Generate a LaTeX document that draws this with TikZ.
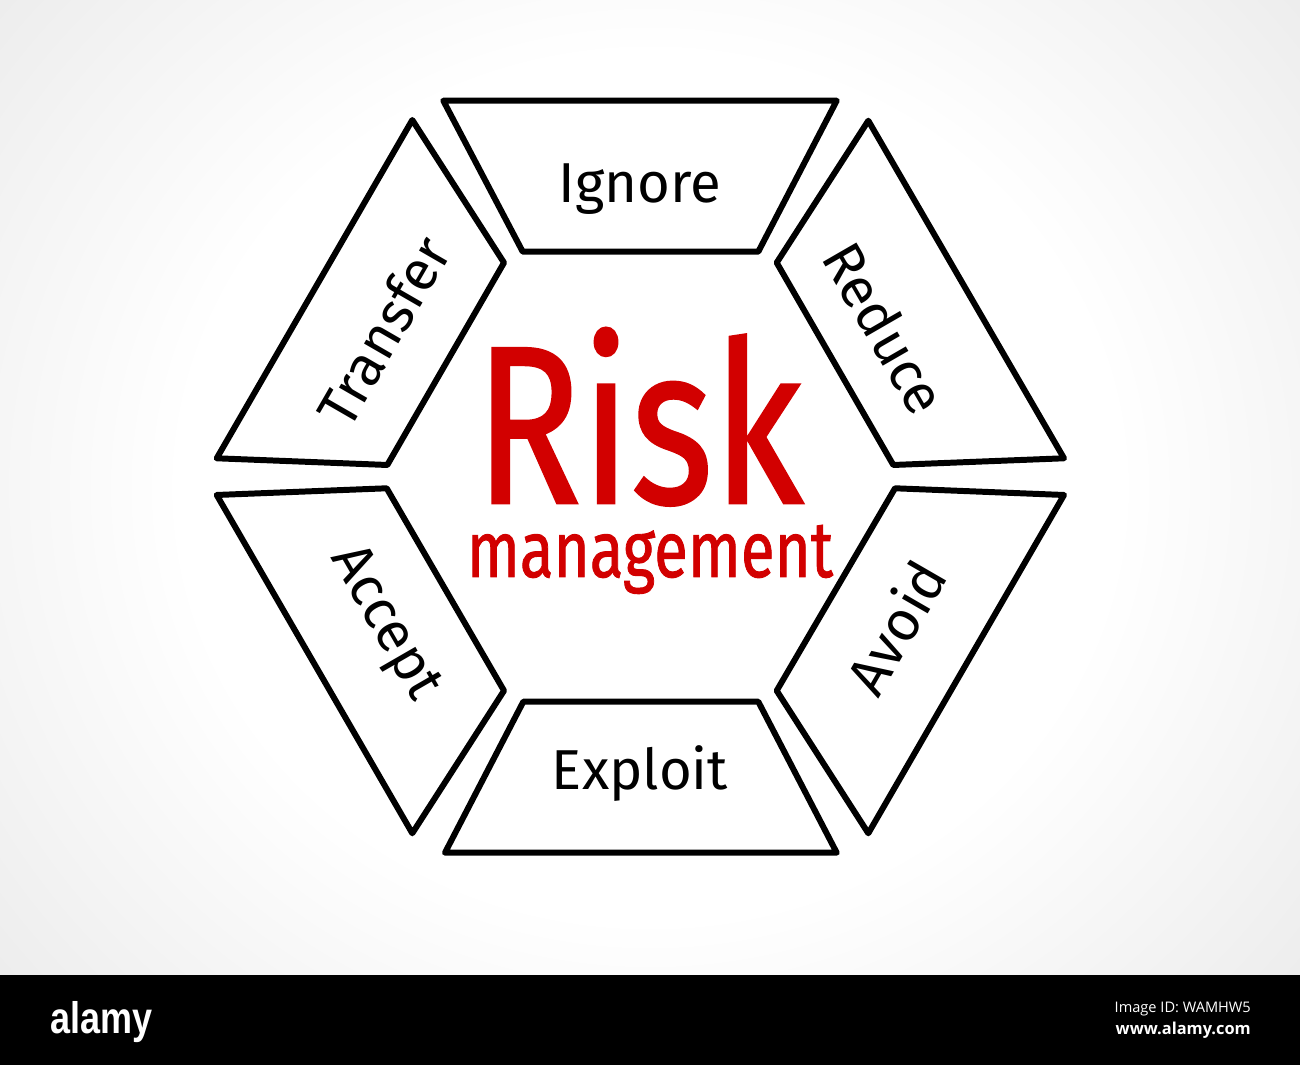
\documentclass[tikz,border=0pt]{standalone}
\usepackage{fontspec}
\setmainfont{Fira Sans}
\newfontfamily\redfont[FakeBold=1.2]{Fira Sans}
\newfontfamily\barfont{Open Sans}
\newfontfamily\logofont{Liberation Sans}
\definecolor{riskred}{RGB}{210,0,0}
\pgfdeclareradialshading{bgshade}{\pgfpoint{0bp}{0bp}}{color(0bp)=(white); color(18bp)=(white); color(34bp)=(black!8); color(50bp)=(black!20); color(65bp)=(black!26); color(75bp)=(black!27)}
\tikzset{
  seg/.style={draw=black, fill=white, line width=1.7pt, line join=round},
  lbl/.style={font=\fontsize{16}{20}\selectfont, inner sep=0pt, text=black},
  redtxt/.style={inner sep=0pt, text=riskred, font=\redfont},
  bartxt/.style={inner sep=0pt, text=white}
}
\begin{document}
\begin{tikzpicture}[x=0.01cm, y=-0.01cm]
\useasboundingbox (0,0) rectangle (1300,1065);
% background
\begin{scope}
\clip (0,0) rectangle (1300,975);
\shade[shading=bgshade] (0,-112.5) rectangle (1300,1087.5);
\end{scope}
\fill[black] (0,975) rectangle (1300,1065);

% ring segments
\draw[seg] (443.3,100.7) -- (836.7,100.7) -- (758.3,251.7) -- (522.7,251.7) -- cycle;
\draw[seg] (868.3,120.7) -- (1064,458.3) -- (893.3,465) -- (776.7,262.7) -- cycle;
\draw[seg] (895,488.3) -- (1064,495) -- (868.3,833.3) -- (776.7,690.7) -- cycle;
\draw[seg] (523.3,701.7) -- (758.3,701.7) -- (836.7,852.7) -- (445,852.7) -- cycle;
\draw[seg] (216.7,495) -- (386.7,488.3) -- (504,690.7) -- (412.3,833.3) -- cycle;
\draw[seg] (412.3,120) -- (504,262.7) -- (387.3,465) -- (216.7,458.3) -- cycle;

% labels
\node[lbl, anchor=base] (ignore) at (640,203) {Ignore};
\node[lbl, anchor=base] (exploit) at (640,790) {Exploit};
\node[lbl, rotate=60] (transfer) at (383,331) {Transfer};
\node[lbl, rotate=-60] (reduce) at (885,328) {Reduce};
\node[lbl, rotate=-60] (accept) at (384,624) {Accept};
\node[lbl, rotate=60] (avoid) at (895.5,626.7) {Avoid};

% centre
\node[redtxt, anchor=base] (risk) at (639,503) {\resizebox{3.28cm}{1.75cm}{Risk}};
\node[redtxt, anchor=base] (mgmt) at (650,577) {\resizebox{3.66cm}{0.52cm}{management}};

% bottom bar
\node[bartxt, anchor=base west] (logo) at (50,1034) {\resizebox{1.02cm}{0.32cm}{\logofont\bfseries alamy}};
\node[bartxt, anchor=base west] (imgid) at (1114,1012.7) {\resizebox{1.36cm}{!}{\barfont Image ID: WAMHW5}};
\node[bartxt, anchor=base west] (www) at (1115,1035) {\resizebox{1.35cm}{!}{\barfont\bfseries www.alamy.com}};
\end{tikzpicture}
\end{document}
